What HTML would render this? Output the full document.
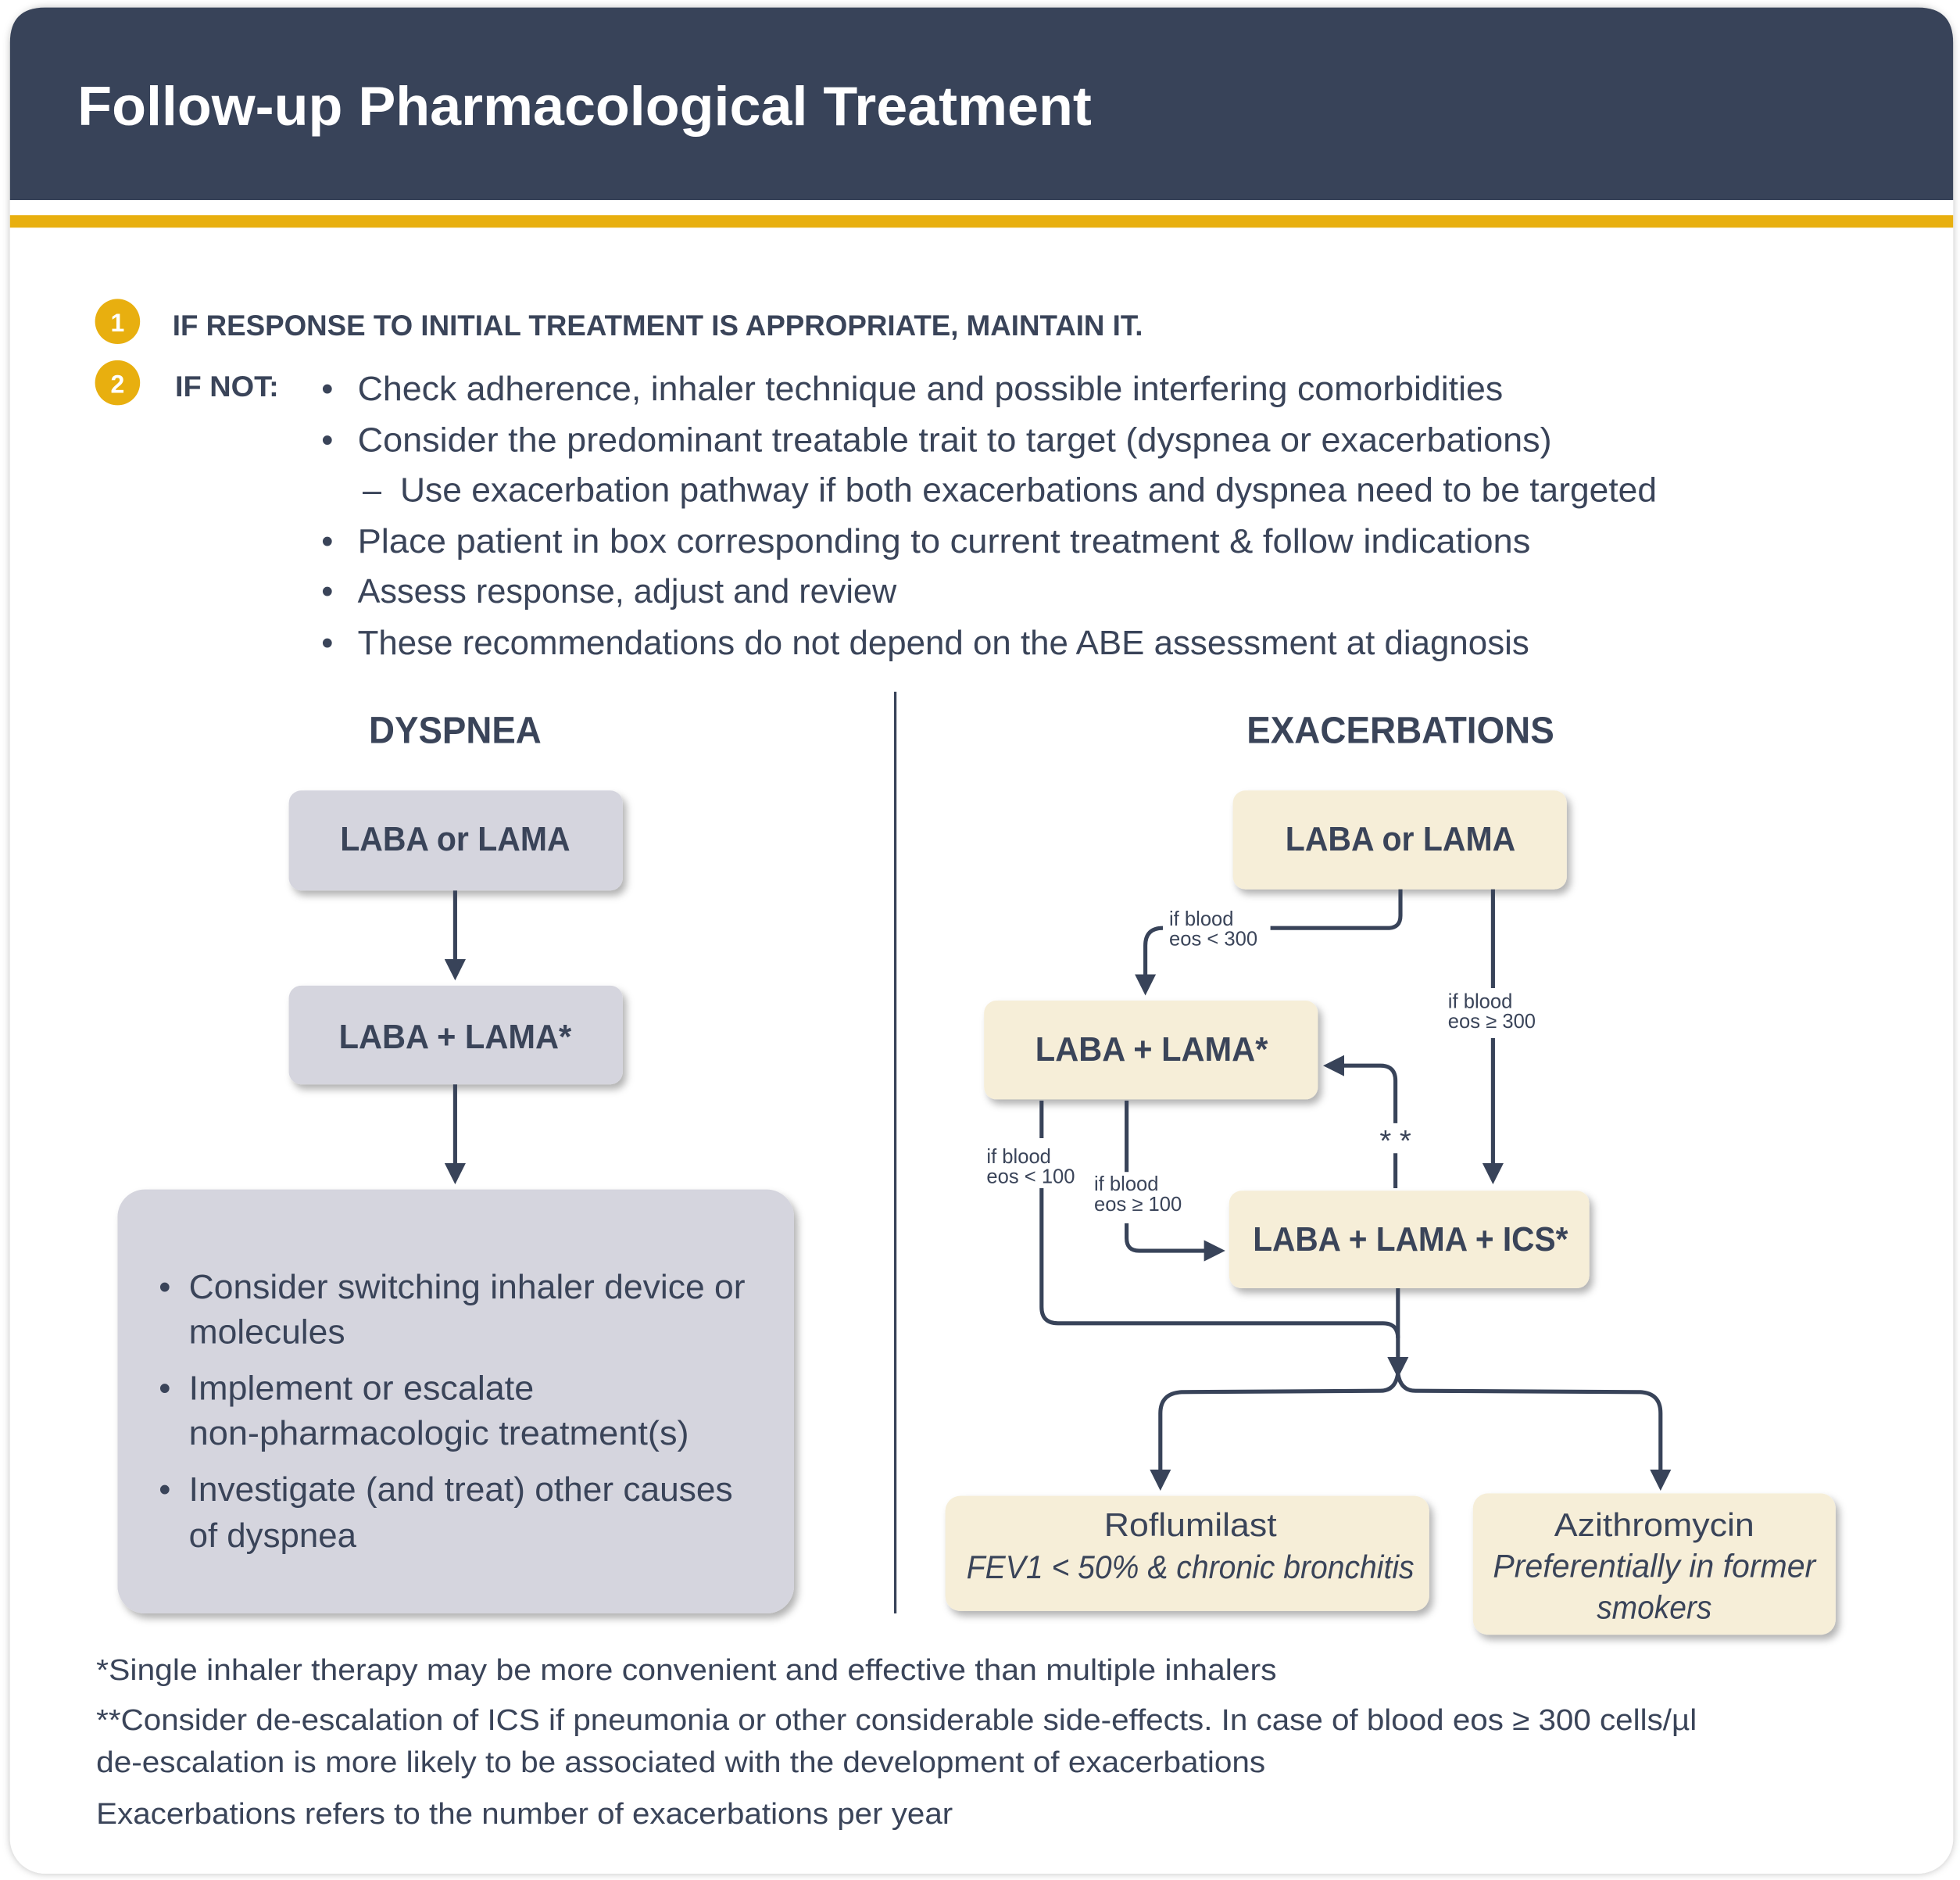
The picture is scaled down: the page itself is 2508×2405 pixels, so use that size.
<!DOCTYPE html>
<html><head><meta charset="utf-8"><style>
html,body{margin:0;padding:0;background:#fff;}
svg{display:block;}
text{font-family:"Liberation Sans",sans-serif;fill:#3a4459;}
</style></head><body>
<svg width="2508" height="2405" viewBox="0 0 1567.5 1503.1" xmlns="http://www.w3.org/2000/svg">
<defs>
<filter id="sh" x="-10%" y="-10%" width="125%" height="130%"><feDropShadow dx="3" dy="4" stdDeviation="3" flood-color="#000" flood-opacity="0.3"/></filter>
<filter id="csh" x="-2%" y="-2%" width="104%" height="104%"><feDropShadow dx="0" dy="0" stdDeviation="3" flood-color="#000" flood-opacity="0.25"/></filter>
<marker id="ar" viewBox="0 0 10 10" refX="3" refY="5" markerWidth="17" markerHeight="17" markerUnits="userSpaceOnUse" orient="auto"><path d="M0,0 L10,5 L0,10 z" fill="#384359"/></marker>
</defs>
<rect x="0" y="0" width="1568" height="1504" fill="#fff"/>
<rect x="8" y="6" width="1554" height="1492" rx="28" fill="#fff" filter="url(#csh)"/>
<path d="M8,160 L8,34 Q8,6 36,6 L1534,6 Q1562,6 1562,34 L1562,160 Z" fill="#384359"/>
<rect x="8" y="172" width="1554" height="10" fill="#E8AF0F"/>
<text x="62" y="100" font-size="44" font-weight="bold" style="fill:#fff" textLength="811" lengthAdjust="spacingAndGlyphs">Follow-up Pharmacological Treatment</text>

<circle cx="94" cy="257" r="18" fill="#E8AF0F"/><text x="94" y="265" font-size="20" font-weight="bold" text-anchor="middle" style="fill:#fff">1</text>
<circle cx="94" cy="306" r="18" fill="#E8AF0F"/><text x="94" y="314" font-size="20" font-weight="bold" text-anchor="middle" style="fill:#fff">2</text>
<text x="138" y="268" font-size="23" font-weight="bold" textLength="776" lengthAdjust="spacingAndGlyphs">IF RESPONSE TO INITIAL TREATMENT IS APPROPRIATE, MAINTAIN IT.</text>
<text x="140" y="317" font-size="23" font-weight="bold" textLength="83" lengthAdjust="spacingAndGlyphs">IF NOT:</text>
<g font-size="27">
<text x="257" y="320">•</text><text x="286" y="320" textLength="916" lengthAdjust="spacingAndGlyphs">Check adherence, inhaler technique and possible interfering comorbidities</text>
<text x="257" y="361">•</text><text x="286" y="361" textLength="955" lengthAdjust="spacingAndGlyphs">Consider the predominant treatable trait to target (dyspnea or exacerbations)</text>
<text x="290" y="401">–</text><text x="320" y="401" textLength="1005" lengthAdjust="spacingAndGlyphs">Use exacerbation pathway if both exacerbations and dyspnea need to be targeted</text>
<text x="257" y="442">•</text><text x="286" y="442" textLength="938" lengthAdjust="spacingAndGlyphs">Place patient in box corresponding to current treatment &amp; follow indications</text>
<text x="257" y="482">•</text><text x="286" y="482" textLength="431" lengthAdjust="spacingAndGlyphs">Assess response, adjust and review</text>
<text x="257" y="523">•</text><text x="286" y="523" textLength="937" lengthAdjust="spacingAndGlyphs">These recommendations do not depend on the ABE assessment at diagnosis</text>
</g>
<line x1="716" y1="553" x2="716" y2="1290" stroke="#384359" stroke-width="2"/>
<text x="364" y="594" font-size="30" font-weight="bold" text-anchor="middle" textLength="138" lengthAdjust="spacingAndGlyphs">DYSPNEA</text>
<text x="1120" y="594" font-size="30" font-weight="bold" text-anchor="middle" textLength="246" lengthAdjust="spacingAndGlyphs">EXACERBATIONS</text>

<g filter="url(#sh)">
<rect x="231" y="632" width="267" height="80" rx="10" fill="#D5D5DE"/>
<rect x="231" y="788" width="267" height="79" rx="10" fill="#D5D5DE"/>
<rect x="94" y="951" width="541" height="339" rx="22" fill="#D5D5DE"/>
<rect x="986" y="632" width="267" height="79" rx="10" fill="#F6EED8"/>
<rect x="787" y="800" width="267" height="79" rx="10" fill="#F6EED8"/>
<rect x="983" y="952" width="288" height="78" rx="10" fill="#F6EED8"/>
<rect x="756" y="1196" width="387" height="92" rx="12" fill="#F6EED8"/>
<rect x="1178" y="1194" width="290" height="113" rx="12" fill="#F6EED8"/>
</g>
<g font-size="27" font-weight="bold" text-anchor="middle">
<text x="364" y="680" textLength="184" lengthAdjust="spacingAndGlyphs">LABA or LAMA</text>
<text x="364" y="838" textLength="186" lengthAdjust="spacingAndGlyphs">LABA + LAMA*</text>
<text x="1120" y="680" textLength="184" lengthAdjust="spacingAndGlyphs">LABA or LAMA</text>
<text x="921" y="848" textLength="186" lengthAdjust="spacingAndGlyphs">LABA + LAMA*</text>
<text x="1128" y="1000" textLength="252" lengthAdjust="spacingAndGlyphs">LABA + LAMA + ICS*</text>
</g>
<g font-size="27">
<text x="127" y="1038">•</text><text x="151" y="1038" textLength="445" lengthAdjust="spacingAndGlyphs">Consider switching inhaler device or</text>
<text x="151" y="1074" textLength="125" lengthAdjust="spacingAndGlyphs">molecules</text>
<text x="127" y="1119">•</text><text x="151" y="1119" textLength="276" lengthAdjust="spacingAndGlyphs">Implement or escalate</text>
<text x="151" y="1155" textLength="400" lengthAdjust="spacingAndGlyphs">non-pharmacologic treatment(s)</text>
<text x="127" y="1200">•</text><text x="151" y="1200" textLength="435" lengthAdjust="spacingAndGlyphs">Investigate (and treat) other causes</text>
<text x="151" y="1237" textLength="134" lengthAdjust="spacingAndGlyphs">of dyspnea</text>
</g>
<g font-size="26" text-anchor="middle">
<text x="952" y="1228" textLength="138" lengthAdjust="spacingAndGlyphs">Roflumilast</text>
<text x="952" y="1262" font-style="italic" textLength="358" lengthAdjust="spacingAndGlyphs">FEV1 &lt; 50% &amp; chronic bronchitis</text>
<text x="1323" y="1228" textLength="160" lengthAdjust="spacingAndGlyphs">Azithromycin</text>
<text x="1323" y="1261" font-style="italic" textLength="258" lengthAdjust="spacingAndGlyphs">Preferentially in former</text>
<text x="1323" y="1294" font-style="italic" textLength="92" lengthAdjust="spacingAndGlyphs">smokers</text>
</g>

<g stroke="#384359" stroke-width="3.2" fill="none">
<line x1="364" y1="712" x2="364" y2="772" marker-end="url(#ar)"/>
<line x1="364" y1="867" x2="364" y2="935" marker-end="url(#ar)"/>
<path d="M1120,711 L1120,732 Q1120,742 1110,742 L1016,742"/>
<path d="M930,742 Q916,742 916,756 L916,784" marker-end="url(#ar)"/>
<line x1="1194" y1="711" x2="1194" y2="790"/>
<line x1="1194" y1="830" x2="1194" y2="935" marker-end="url(#ar)"/>
<line x1="833" y1="880" x2="833" y2="910"/>
<path d="M833,950 L833,1045 Q833,1058 846,1058 L1106,1058 Q1118,1058 1118,1070"/>
<line x1="901" y1="880" x2="901" y2="937"/>
<path d="M901,978 L901,990 Q901,1000 911,1000 L968,1000" marker-end="url(#ar)"/>
<line x1="1116" y1="950" x2="1116" y2="922"/>
<path d="M1116,898 L1116,864 Q1116,852 1104,852 L1070,852" marker-end="url(#ar)"/>
<line x1="1118" y1="1030" x2="1118" y2="1090" marker-end="url(#ar)"/>
<path d="M1118,1098 Q1116,1112 1104,1112 L945,1113 Q928,1114 928,1130 L928,1180" marker-end="url(#ar)"/>
<path d="M1118,1098 Q1120,1112 1132,1112 L1312,1113 Q1328,1114 1328,1130 L1328,1180" marker-end="url(#ar)"/>
</g>
<g font-size="16">
<text x="935" y="740">if blood</text><text x="935" y="756">eos &lt; 300</text>
<text x="1158" y="806">if blood</text><text x="1158" y="822">eos ≥ 300</text>
<text x="789" y="930">if blood</text><text x="789" y="946">eos &lt; 100</text>
<text x="875" y="952">if blood</text><text x="875" y="968">eos ≥ 100</text>
</g>
<text x="1116" y="920" font-size="24" text-anchor="middle">* *</text>

<g font-size="24">
<text x="77" y="1343" textLength="944" lengthAdjust="spacingAndGlyphs">*Single inhaler therapy may be more convenient and effective than multiple inhalers</text>
<text x="77" y="1383" textLength="1280" lengthAdjust="spacingAndGlyphs">**Consider de-escalation of ICS if pneumonia or other considerable side-effects. In case of blood eos ≥ 300 cells/µl</text>
<text x="77" y="1417" textLength="935" lengthAdjust="spacingAndGlyphs">de-escalation is more likely to be associated with the development of exacerbations</text>
<text x="77" y="1458" textLength="685" lengthAdjust="spacingAndGlyphs">Exacerbations refers to the number of exacerbations per year</text>
</g>
</svg>
</body></html>
